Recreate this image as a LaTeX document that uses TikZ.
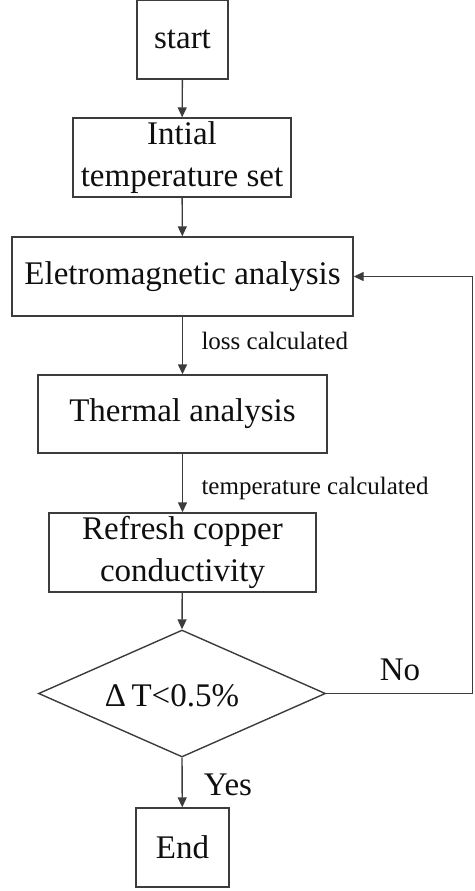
\documentclass[tikz,border=0pt]{standalone}
\usepackage{fontspec}
\setmainfont{Liberation Serif}
\usetikzlibrary{arrows.meta,shapes.geometric}
\definecolor{lc}{RGB}{60,60,60}
\definecolor{tc}{RGB}{15,15,15}
\begin{document}
\begin{tikzpicture}[x=1pt,y=-1pt,
  big/.style={font=\fontsize{33}{42}\selectfont, text=tc},
  small/.style={font=\fontsize{25}{30}\selectfont, text=tc},
  box/.style={draw=lc, line width=1.4pt, rectangle, inner sep=0pt, align=center, big},
  dec/.style={draw=lc, line width=1.4pt, diamond, inner sep=0pt, big},
  conn/.style={draw=lc, line width=1.4pt, -{Triangle[length=10pt,width=9pt]}},
  line/.style={draw=lc, line width=1.4pt}]
\useasboundingbox (0,0) rectangle (474,891);
\node[box, minimum width=91pt, minimum height=78.3pt] (start) at (182.5,39.85) {start};
\node[box, minimum width=218pt, minimum height=79pt] (init) at (182,157.5) {Intial\\temperature set};
\node[box, minimum width=341pt, minimum height=79pt] (elec) at (182.5,276.5) {Eletromagnetic analysis};
\node[box, minimum width=289pt, minimum height=78pt] (therm) at (182.5,414) {Thermal analysis};
\node[box, minimum width=267pt, minimum height=79pt] (refr) at (182.5,552.5) {Refresh copper\\conductivity};
\node[dec, minimum width=287pt, minimum height=127pt] (dec) at (182,693.5) {};
\node[big] (dtxt) at (172,696) {Δ\,T<0.5\%};
\node[box, minimum width=93pt, minimum height=79pt] (end) at (182.5,847.5) {End};
\coordinate (cr) at (472.5,693.5);

\draw[conn] (start) -- (init);
\draw[conn] (init) -- (elec);
\draw[conn] (elec) -- (therm);
\draw[conn] (therm) -- (refr);
\draw[conn] (refr) -- (dec.north);
\draw[conn] (dec.south) -- (end);
\draw[conn] (dec.east) -- (cr) |- (elec.east);

\node[small, anchor=west] (lloss) at (198,341) {loss calculated};
\node[small, anchor=west] (ltemp) at (198,488) {temperature calculated};
\node[big] (lno) at (400,670) {No};
\node[big] (lyes) at (228,785) {Yes};
\end{tikzpicture}
\end{document}
